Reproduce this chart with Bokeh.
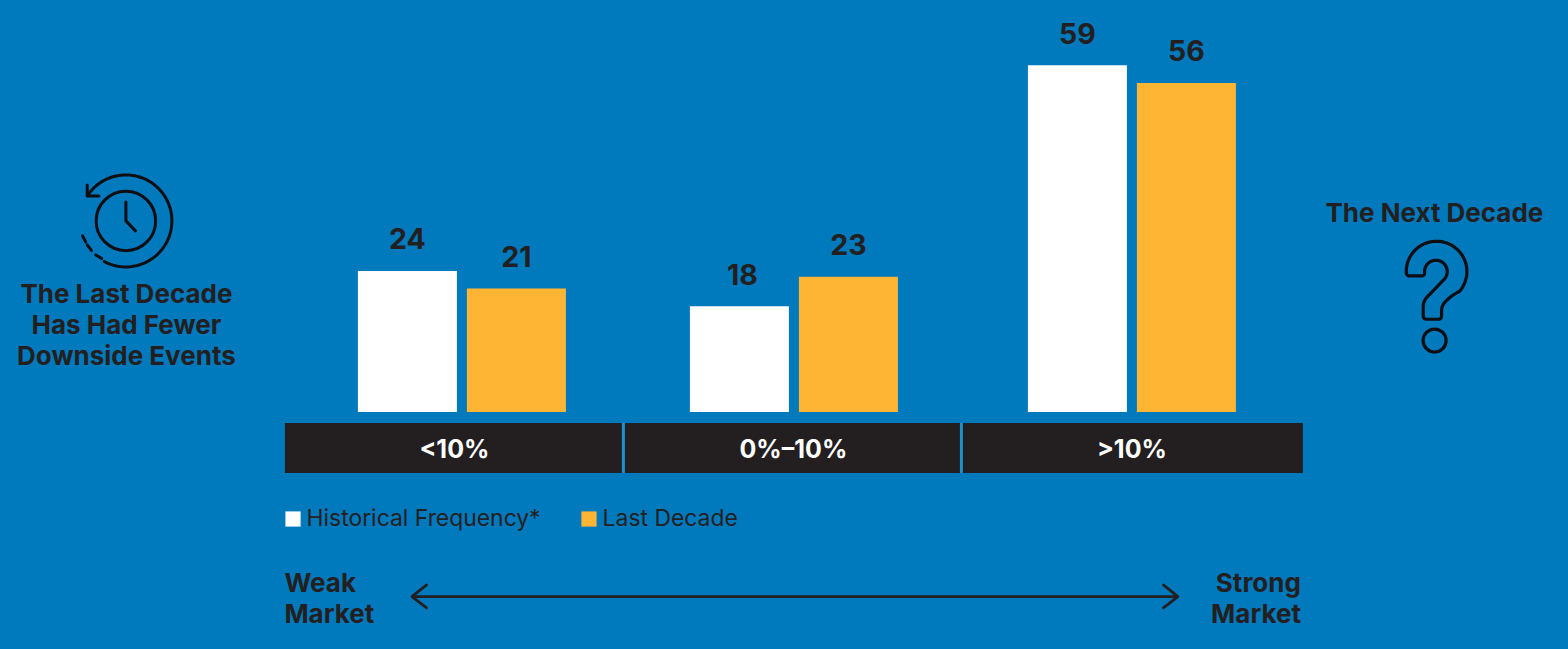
import numpy as np
from bokeh.plotting import figure
from bokeh.models import Range1d, Legend, LegendItem
from bokeh.core.properties import value
from bokeh.embed import file_html
from bokeh.resources import INLINE

categories = ["<10%", "0%\u201310%", ">10%"]
historical = [24, 18, 59]
last_decade = [21, 23, 56]
series_names = ["Historical Frequency*", "Last Decade"]

BG, DARK, ORANGE, SEP, ICON = "#0079BD", "#231F20", "#FFB534", "#1E90D0", "#0E0E12"
FONT = "Inter"

p = figure(width=1568, height=649, output_backend="svg", toolbar_location=None,
           x_range=Range1d(0.6, 1568.6), y_range=Range1d(649.6, 0.6),
           background_fill_color=BG, border_fill_color=BG, min_border=0)
p.extra_y_ranges = {"v": Range1d(-40.43, 70.04)}
p.xaxis.visible = False
p.yaxis.visible = False
p.grid.visible = False
p.outline_line_color = None

white_x = [407.5, 739.5, 1077.5]
orange_x = [516.5, 848.5, 1186.5]
r1 = p.vbar(x=white_x, top=historical, bottom=0, width=99, y_range_name="v",
            fill_color="white", line_color=None)
r2 = p.vbar(x=orange_x, top=last_decade, bottom=0, width=99, y_range_name="v",
            fill_color=ORANGE, line_color=None)

bold = dict(text_color=DARK, text_font=value(FONT), text_font_style="bold",
            text_align="center", text_baseline="middle")
p.text(x=white_x, y=historical, text=[str(v) for v in historical], y_range_name="v",
       x_offset=[0, 3, 0], y_offset=-32, text_font_size="28.5px", **bold)
p.text(x=orange_x, y=last_decade, text=[str(v) for v in last_decade], y_range_name="v",
       y_offset=-32, text_font_size="28.5px", **bold)

# category band
p.quad(left=[285], right=[1303], top=[423], bottom=[473], fill_color=DARK, line_color=None)
p.quad(left=[622, 960], right=[625, 963], top=[423, 423], bottom=[473, 473], fill_color=SEP, line_color=None)
p.text(x=[454.5, 793.5, 1132], y=[449, 449, 449], text=categories, text_color="white",
       text_font=value(FONT), text_font_style="bold", text_font_size="25px",
       text_align="center", text_baseline="middle")

# side labels
semi = dict(text_color=DARK, text_font=value(FONT), text_font_style="bold", text_font_size="26px",
            text_baseline="middle")
p.text(x=[126.5, 126.5, 126.5], y=[294, 325, 356],
       text=["The Last Decade", "Has Had Fewer", "Downside Events"], text_align="center", **semi)
p.text(x=[1434.5], y=[213], text=["The Next Decade"], text_align="center", **semi)
p.text(x=[284.5, 284.5], y=[582.5, 613.5], text=["Weak", "Market"], text_align="left", **semi)
p.text(x=[1301, 1301], y=[582.5, 613.5], text=["Strong", "Market"], text_align="right", **semi)

# double arrow
ic = dict(line_color=DARK, line_cap="round", line_join="round")
p.line([412, 1178], [596.7, 596.7], line_width=2.7, line_color=DARK)
p.line([426.7, 412, 426.7], [585, 596.7, 608], line_width=2.7, **ic)
p.line([1163.5, 1178, 1163.5], [585, 596.7, 608], line_width=2.7, **ic)

# clock icon
ick = dict(line_color=ICON, line_cap="round", line_join="round")
cx, cy, R = 126, 221, 46
t = np.radians(np.linspace(147, -118, 90))
p.line(cx + R*np.cos(t), cy - R*np.sin(t), line_width=3, **ick)
p.line([87.3, 87.3, 99], [185, 196, 196], line_width=3, **ick)
p.scatter([126], [221], size=59.5, marker="circle", fill_color=None, line_color=ICON, line_width=3)
p.line([126, 126, 135.5], [202, 221, 231], line_width=3, **ick)
p.multi_line([[82.7, 85.7], [87.3, 91.7], [96, 101.7]], [[236, 242], [245, 250.7], [255, 258.7]],
             line_width=3, line_color=ICON, line_cap="round")

# question mark icon
def arc(c, r, a0, a1, n=40):
    a = np.radians(np.linspace(a0, a1, n))
    return list(c[0] + r*np.cos(a)), list(c[1] - r*np.sin(a))
def qb(a, b, c, n=10):
    s = np.linspace(0, 1, n)
    return (list((1-s)**2*a[0] + 2*s*(1-s)*b[0] + s**2*c[0]),
            list((1-s)**2*a[1] + 2*s*(1-s)*b[1] + s**2*c[1]))
qx, qy = [], []
def add(seg):
    qx.extend(seg[0]); qy.extend(seg[1])
add(arc((380, 245), 91, 180, -42))
add(qb((445, 306), (395, 335), (395, 360)))
add(qb((395, 378), (395, 388), (385, 388)))
add(qb((350, 388), (340, 388), (340, 376)))
add(qb((340, 350), (340, 330), (358, 315)))
add(arc((378, 245), 34, -38, 180))
add(qb((344, 250), (344, 258), (334, 258)))
add(qb((298, 258), (289, 258), (289, 245)))
qx = [1310 + v/3 for v in qx]
qy = [190 + v/3 for v in qy]
p.line(qx, qy, line_width=3.2, **ick)
p.scatter([1434.7], [340.7], size=23, marker="circle", fill_color=None, line_color=ICON, line_width=3.2)

# legend
legend = Legend(items=[LegendItem(label=series_names[0], renderers=[r1]),
                       LegendItem(label=series_names[1], renderers=[r2])],
                orientation="horizontal", location=(282.5, 117), padding=0, margin=0, spacing=38,
                glyph_width=19, glyph_height=19, label_standoff=5, label_height=19,
                background_fill_alpha=0, border_line_color=None,
                label_text_font=FONT, label_text_font_size="22.9px", label_text_color=DARK)
p.add_layout(legend)

html = file_html(p, INLINE).replace("</head>", "<style>html,body{background:#0079BD;overflow:hidden}</style></head>")
open("out.html", "w").write(html)
